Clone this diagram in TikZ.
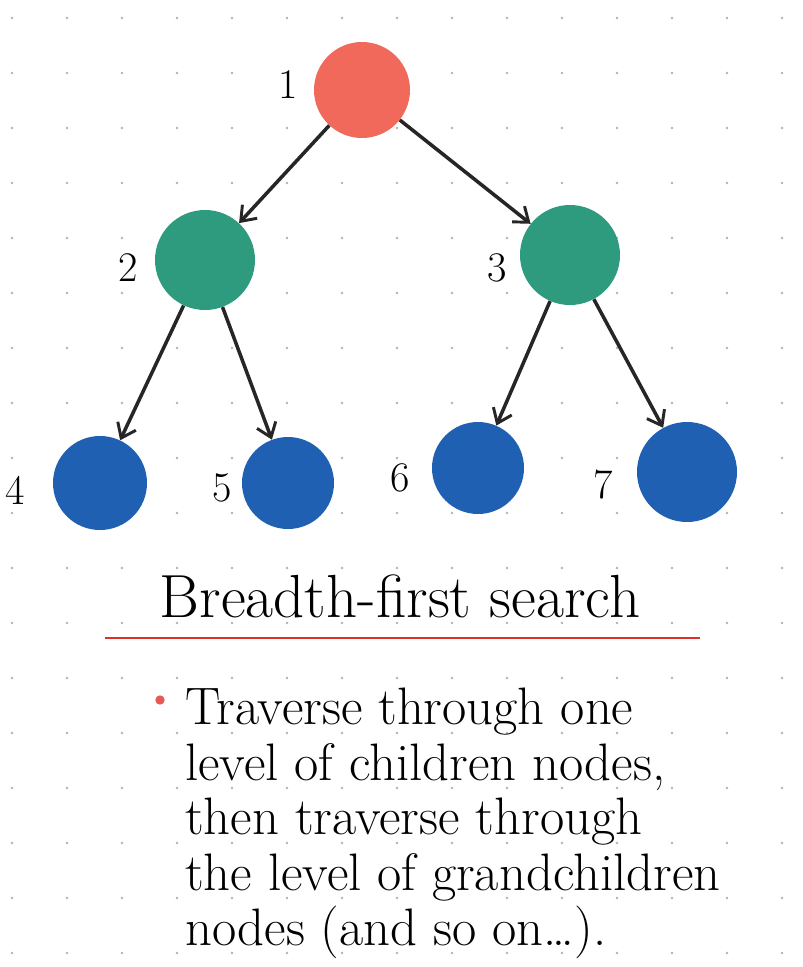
\documentclass[tikz,border=0pt]{standalone}
\usetikzlibrary{arrows.meta}
\definecolor{rednode}{HTML}{F0695A}
\definecolor{greennode}{HTML}{2E9A7E}
\definecolor{bluenode}{HTML}{1F60B2}
\definecolor{redline}{HTML}{E0302A}
\begin{document}
\begin{tikzpicture}[x=0.03cm,y=-0.03cm,
  tn/.style={circle,minimum size=#1*0.06cm,inner sep=0pt},
  lab/.style={font=\fontsize{36}{36}\selectfont},
  edge/.style={draw=black!85,line width=3pt,-{Straight Barb[length=4mm,width=6mm,line width=2.5pt]}},
  txt/.style={font=\fontsize{45}{45}\selectfont,anchor=west,inner sep=0pt}]
\fill[white] (0,0) rectangle (803,967);
\useasboundingbox (0,0) rectangle (803,967);
\foreach \i in {0,...,14}{\foreach \j in {0,...,17}{
  \fill[gray!60] (12+\i*55,18+\j*55) circle (1.2pt);}}
\node[tn=48,fill=rednode] (n1) at (362,90) {};
\node[tn=50,fill=greennode] (n2) at (205,260) {};
\node[tn=50,fill=greennode] (n3) at (570,255) {};
\node[tn=47,fill=bluenode] (n4) at (100,483) {};
\node[tn=46,fill=bluenode] (n5) at (288,483) {};
\node[tn=46,fill=bluenode] (n6) at (478,468) {};
\node[tn=50,fill=bluenode] (n7) at (687,472) {};
\node[lab] (l1) at (288,85) {1};
\node[lab] (l2) at (128,268) {2};
\node[lab] (l3) at (497,268) {3};
\node[lab] (l4) at (15,490) {4};
\node[lab] (l5) at (222,488) {5};
\node[lab] (l6) at (400,478) {6};
\node[lab] (l7) at (603,485) {7};
\draw[edge] (n1) -- (n2);
\draw[edge] (n1) -- (n3);
\draw[edge] (n2) -- (n4);
\draw[edge] (n2) -- (n5);
\draw[edge] (n3) -- (n6);
\draw[edge] (n3) -- (n7);
\node[font=\fontsize{52}{52}\selectfont] (title) at (400,596) {Breadth-first search};
\coordinate (ra) at (105,638); \coordinate (rb) at (700,638);
\draw[redline,line width=1.5pt] (ra) -- (rb);
\fill[redline!80] (160,700) circle (4pt);
\node[txt] (t1) at (185,712) {Traverse through one};
\node[txt] (t2) at (185,767) {level of children nodes,};
\node[txt] (t3) at (185,822) {then traverse through};
\node[txt] (t4) at (185,877) {the level of grandchildren};
\node[txt] (t5) at (185,932) {nodes (and so on\dots).};
\end{tikzpicture}
\end{document}
